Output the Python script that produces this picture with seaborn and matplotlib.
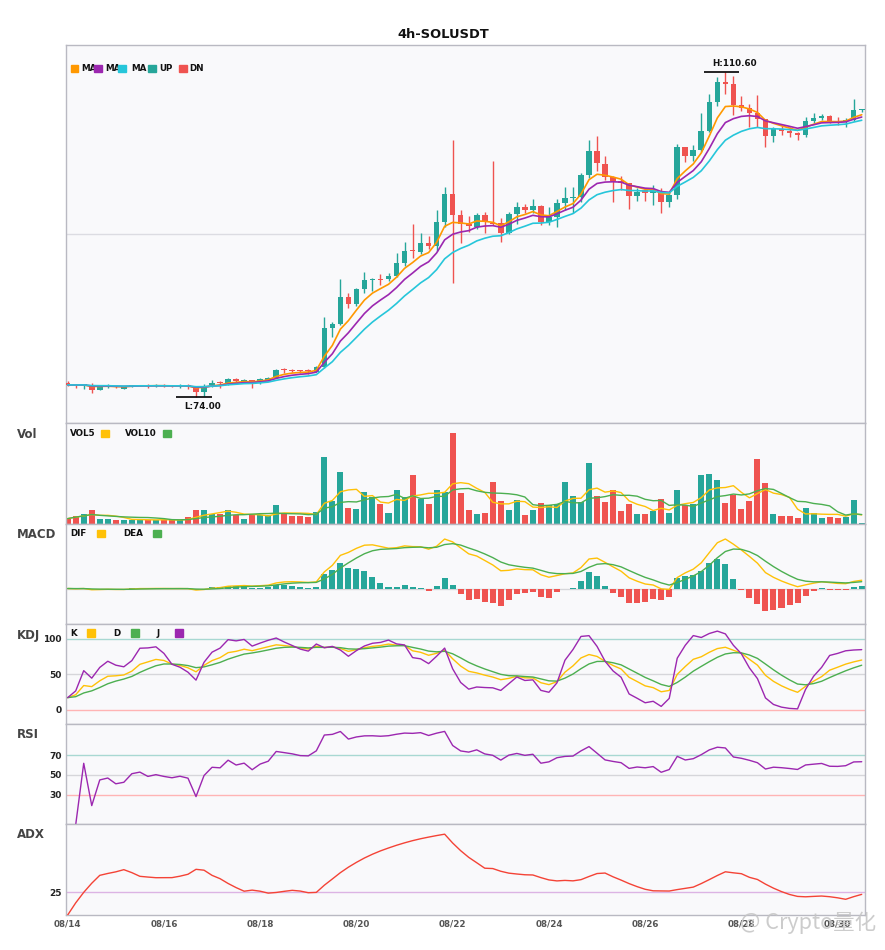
import numpy as np
import pandas as pd
import matplotlib
matplotlib.use('Agg')
import matplotlib.pyplot as plt
from matplotlib.patches import Rectangle
import seaborn as sns

# ---- data (4h candles) ----
open_ = [75.62, 75.36, 75.33, 75.41, 74.88, 75.22, 75.25, 74.99, 75.22, 75.30,
         75.35, 75.31, 75.35, 75.31, 75.27, 75.31, 75.03, 74.66, 75.40, 75.65,
         75.63, 76.04, 75.78, 75.93, 75.78, 76.00, 76.23, 77.12, 77.06, 77.00,
         76.98, 76.90, 77.47, 81.85, 82.26, 85.30, 84.55, 86.20, 87.22, 87.30,
         87.36, 87.70, 89.16, 90.55, 90.40, 91.37, 91.07, 93.74, 96.88, 94.52,
         93.50, 93.17, 94.52, 93.66, 93.66, 92.53, 94.63, 95.46, 95.09, 95.57,
         93.77, 94.26, 95.87, 96.45, 96.58, 99.02, 101.72, 100.26, 98.76, 98.38,
         98.08, 96.65, 97.30, 96.95, 96.96, 95.98, 96.77, 102.13, 101.19, 101.83,
         104.00, 107.23, 109.48, 109.29, 106.89, 106.51, 105.95, 105.28, 103.40, 104.15,
         104.00, 103.78, 103.52, 105.10, 105.39, 105.65, 105.10, 105.00, 105.20, 106.33]
high = [75.85, 75.56, 75.50, 75.60, 75.41, 75.56, 75.30, 75.22, 75.40, 75.45,
        75.56, 75.50, 75.50, 75.45, 75.56, 75.56, 75.10, 75.48, 75.97, 75.89,
        76.16, 76.16, 76.05, 76.00, 76.23, 76.35, 77.20, 77.35, 77.15, 77.10,
        77.20, 77.50, 83.01, 82.53, 87.32, 85.71, 86.30, 88.07, 87.40, 87.85,
        88.04, 90.25, 91.45, 93.51, 92.50, 92.16, 95.09, 97.71, 102.95, 95.09,
        94.41, 94.78, 94.90, 100.59, 94.15, 94.82, 95.95, 95.76, 96.32, 95.60,
        95.46, 96.32, 97.67, 97.67, 99.30, 102.95, 103.40, 101.16, 98.90, 98.90,
        98.10, 97.52, 97.52, 97.86, 97.52, 97.07, 102.50, 102.20, 102.39, 106.03,
        108.09, 110.00, 110.60, 110.15, 107.90, 107.00, 108.00, 105.30, 104.37, 104.52,
        104.37, 103.80, 105.50, 106.03, 105.87, 105.76, 105.50, 105.39, 107.53, 106.42]
low = [75.33, 75.07, 74.92, 74.47, 74.81, 75.03, 75.05, 74.95, 75.18, 75.26,
       75.07, 75.20, 75.15, 75.15, 75.03, 74.96, 74.00, 74.21, 75.22, 75.03,
       75.41, 75.60, 75.70, 75.03, 75.48, 75.90, 76.16, 76.72, 76.90, 76.72,
       76.60, 76.85, 77.28, 80.84, 82.15, 84.03, 84.29, 85.79, 86.01, 86.65,
       87.14, 87.60, 88.79, 89.69, 90.14, 90.74, 90.47, 93.21, 86.91, 91.33,
       92.65, 92.98, 92.46, 93.35, 91.52, 92.34, 93.50, 94.78, 94.78, 93.40,
       93.40, 93.21, 95.09, 94.70, 96.00, 98.64, 99.47, 98.50, 96.02, 97.33,
       95.16, 96.10, 96.10, 95.60, 94.78, 95.46, 96.28, 100.52, 100.63, 101.60,
       103.90, 106.78, 108.13, 105.77, 106.25, 104.45, 104.37, 102.20, 102.77, 103.50,
       103.25, 102.95, 103.33, 104.82, 105.20, 104.82, 104.63, 104.45, 105.10, 106.15]
close = [75.42, 75.30, 75.48, 74.88, 75.26, 75.30, 75.15, 75.18, 75.37, 75.41,
         75.31, 75.35, 75.31, 75.28, 75.31, 75.27, 74.66, 75.26, 75.63, 75.61,
         76.04, 75.86, 75.97, 75.71, 76.04, 76.23, 77.13, 77.08, 77.03, 76.96,
         76.95, 77.43, 81.81, 82.30, 85.34, 84.55, 86.20, 87.21, 87.30, 87.25,
         87.70, 89.12, 90.51, 90.48, 91.37, 91.07, 93.74, 96.88, 94.56, 93.51,
         93.28, 94.52, 93.74, 93.47, 92.53, 94.63, 95.46, 95.09, 95.57, 93.77,
         94.26, 95.87, 96.43, 96.58, 99.02, 101.72, 100.33, 98.76, 98.38, 98.08,
         96.65, 97.14, 96.95, 97.33, 95.98, 96.77, 102.13, 101.19, 101.83, 104.00,
         107.23, 109.48, 109.29, 106.89, 106.51, 105.95, 105.28, 103.40, 104.15, 104.00,
         103.78, 103.52, 105.10, 105.39, 105.65, 105.03, 105.00, 105.20, 106.33, 106.40]
volume_k = [16, 25, 31, 41, 16, 16, 13, 11, 13, 13,
            13, 11, 13, 11, 11, 22, 43, 43, 31, 31,
            43, 26, 16, 26, 26, 26, 55, 31, 25, 25,
            22, 37, 199, 67, 154, 49, 46, 94, 79, 58,
            34, 100, 79, 145, 74, 58, 100, 94, 271, 91,
            43, 31, 34, 124, 67, 43, 70, 28, 43, 61,
            55, 58, 124, 82, 64, 181, 82, 64, 100, 40,
            58, 31, 31, 40, 73, 34, 100, 55, 58, 145,
            148, 130, 61, 85, 46, 67, 193, 121, 31, 25,
            25, 19, 49, 34, 19, 22, 19, 22, 70, 2]
tick_pos = [0, 12, 24, 36, 48, 60, 72, 84, 96]
tick_labels = ['08/14', '08/16', '08/18', '08/20', '08/22', '08/24', '08/26', '08/28', '08/30']

UP, DN = '#26a69a', '#ef5350'
C_MA1, C_MA2, C_MA3 = '#ff9800', '#9c27b0', '#26c6da'
GOLD, GREEN, PURPLE = '#ffc107', '#4caf50', '#9c27b0'
BG, SPINE = '#f9f9fb', '#b9b9c2'

df = pd.DataFrame({'open': open_, 'high': high, 'low': low, 'close': close, 'vol': volume_k})
n = len(df)
idx = np.arange(n)
is_up = (df['close'] >= df['open']).values
cols = np.where(is_up, UP, DN)


def ema(s, span):
    return s.ewm(span=span, adjust=False).mean()


# ---- indicators ----
ma1 = ema(df['close'], 5)
ma2 = ema(df['close'], 8)
ma3 = ema(df['close'], 13)
vol5 = df['vol'].rolling(5, min_periods=1).mean()
vol10 = df['vol'].rolling(10, min_periods=1).mean()

dif = ema(df['close'], 6) - ema(df['close'], 13)
dea = ema(dif, 5)
hist = 2 * (dif - dea)

llv = df['low'].rolling(9, min_periods=1).min()
hhv = df['high'].rolling(9, min_periods=1).max()
rsv = (df['close'] - llv) / (hhv - llv) * 100
k_line = rsv.ewm(com=2, adjust=False).mean()
d_line = k_line.ewm(com=2, adjust=False).mean()
j_line = 3 * k_line - 2 * d_line

delta = df['close'].diff()
gain = delta.clip(lower=0).ewm(alpha=1 / 14).mean()
loss = (-delta.clip(upper=0)).ewm(alpha=1 / 14).mean()
rsi = 100 * gain / (gain + loss)

prev_c = df['close'].shift()
tr = pd.concat([df['high'] - df['low'], (df['high'] - prev_c).abs(),
                (df['low'] - prev_c).abs()], axis=1).max(axis=1)
up_move = df['high'].diff()
dn_move = -df['low'].diff()
pdm = pd.Series(np.where((up_move > dn_move) & (up_move > 0), up_move, 0.0))
mdm = pd.Series(np.where((dn_move > up_move) & (dn_move > 0), dn_move, 0.0))
atr = ema(tr, 14)
pdi = 100 * ema(pdm, 14) / atr
mdi = 100 * ema(mdm, 14) / atr
dx = (100 * (pdi - mdi).abs() / (pdi + mdi)).fillna(0)
adx = ema(dx, 14)

# ---- figure ----
sns.set_style('white')
plt.rcParams['font.family'] = ['DejaVu Sans']
fig = plt.figure(figsize=(8.85, 9.5), dpi=100)
W, H = 885, 950


def panel(top, bottom):
    ax = fig.add_axes([66 / W, 1 - bottom / H, 799 / W, (bottom - top) / H])
    ax.set_facecolor(BG)
    for s in ax.spines.values():
        s.set_color(SPINE)
        s.set_linewidth(1)
    ax.set_xticks([])
    ax.set_yticks([])
    return ax


def line(ax, y, color, lw=1.0, z=4):
    sns.lineplot(x=idx, y=np.asarray(y), ax=ax, color=color, linewidth=lw, zorder=z, legend=False)
    ax.set_xlabel('')
    ax.set_ylabel('')


def legend(items, ycen):
    for kind, x, val in items:
        if kind == 't':
            fig.text(x / W, 1 - ycen / H, val, fontsize=6.3, fontweight='bold',
                     color='#111111', va='center', ha='left', zorder=3)
        else:
            fig.add_artist(Rectangle((x / W, 1 - (ycen + 3.7) / H), 7.5 / W, 7.5 / H,
                                     transform=fig.transFigure, color=val, zorder=5))


def ylabels(ax, ticks):
    ax.set_yticks(ticks)
    ax.set_yticklabels([str(t) for t in ticks], fontsize=6.5, fontweight='bold', color='#222222')
    ax.tick_params(axis='y', length=0, pad=3)


ax_p = panel(45, 423)
ax_v = panel(423, 524)
ax_m = panel(524, 624)
ax_k = panel(624, 724)
ax_r = panel(724, 824)
ax_a = panel(824, 915)

# price
ax_p.set_ylim(71.13, 113.64)
ax_p.axhline(sum(ax_p.get_ylim()) / 2, color='#dcdce2', lw=1, zorder=1)
ax_p.vlines(idx, df['low'], df['high'], colors=cols, lw=1, zorder=2)
body_bot = np.minimum(df['open'], df['close'])
body_h = np.maximum((df['close'] - df['open']).abs(), 0.1)
ax_p.bar(idx, body_h, bottom=body_bot, width=0.7, color=cols, linewidth=0, zorder=3)
line(ax_p, ma1, C_MA1, 1.2)
line(ax_p, ma2, C_MA2, 1.2)
line(ax_p, ma3, C_MA3, 1.2)
ih = int(df['high'].idxmax())
il = int(df['low'].idxmin())
ax_p.hlines(df['high'][ih], ih - 2.65, ih + 1.75, color='black', lw=1.2, zorder=5)
ax_p.text(ih - 1.65, df['high'][ih] + 0.42, f"H:{df['high'][ih]:.2f}", fontsize=6.3,
          fontweight='bold', color='#111111', va='bottom', ha='left')
ax_p.hlines(df['low'][il], il - 2.55, il + 1.95, color='black', lw=1.2, zorder=5)
ax_p.text(il - 1.5, df['low'][il] - 0.5, f"L:{df['low'][il]:.2f}", fontsize=6.3,
          fontweight='bold', color='#111111', va='top', ha='left')
legend([('s', 70.7, C_MA1), ('t', 81.3, 'MA'), ('s', 94, C_MA2), ('t', 105.3, 'MA'),
        ('s', 118, C_MA3), ('t', 131.3, 'MA'), ('s', 148.3, UP), ('t', 159.3, 'UP'),
        ('s', 179, DN), ('t', 189.3, 'DN')], 68.7)

# volume
ax_v.bar(idx, df['vol'], width=0.75, color=cols, linewidth=0, zorder=2)
line(ax_v, vol5, GOLD, 1.0)
line(ax_v, vol10, GREEN, 1.0)
ax_v.set_ylim(0, df['vol'].max() * 1.107)
legend([('t', 70, 'VOL5'), ('s', 101, GOLD), ('t', 125.3, 'VOL10'), ('s', 163, GREEN)], 433.7)

# macd
hi = dif.max() * 64.5 / 49.5
ax_m.set_ylim(-hi * 35.5 / 64.5, hi)
ax_m.axhline(0, color='#d6d6da', lw=1, zorder=1)
ax_m.bar(idx, hist, width=0.75, color=np.where(hist >= 0, UP, DN), linewidth=0, zorder=2)
line(ax_m, dif, GOLD, 1.0)
line(ax_m, dea, GREEN, 1.0)
legend([('t', 70, 'DIF'), ('s', 97.3, GOLD), ('t', 123.3, 'DEA'), ('s', 153, GREEN)], 533.7)

# kdj
ax_k.set_ylim(-19.7, 120.7)
for lv, c in [(100, '#a8d8d2'), (50, '#d6d6da'), (0, '#ffb4b4')]:
    ax_k.axhline(lv, color=c, lw=1, zorder=1)
line(ax_k, k_line, GOLD, 1.0)
line(ax_k, d_line, GREEN, 1.0)
line(ax_k, j_line, PURPLE, 1.0)
ylabels(ax_k, [0, 50, 100])
legend([('t', 70, 'K'), ('s', 87.3, GOLD), ('t', 113.3, 'D'), ('s', 131, GREEN),
        ('t', 156.7, 'J'), ('s', 175, PURPLE)], 633)

# rsi
ax_r.set_ylim(0.7, 101.3)
for lv, c in [(70, '#a8d8d2'), (50, '#d6d6da'), (30, '#ffb4b4')]:
    ax_r.axhline(lv, color=c, lw=1, zorder=1)
line(ax_r, rsi, PURPLE, 1.0)
ylabels(ax_r, [30, 50, 70])

# adx
ax_a.set_ylim(0, 100)
ax_a.axhline(25, color='#dcb4e4', lw=1, zorder=1)
line(ax_a, adx, '#f44336', 1.0)
ylabels(ax_a, [25])
ax_a.set_xticks(tick_pos)
ax_a.set_xticklabels(tick_labels, fontsize=6.3, fontweight='bold', color='#555555')
ax_a.tick_params(axis='x', length=0, pad=3)

for ax in (ax_p, ax_v, ax_m, ax_k, ax_r, ax_a):
    ax.set_xlim(-0.21, 99.41)

for name, yc in [('Vol', 435), ('MACD', 535), ('KDJ', 635), ('RSI', 735), ('ADX', 835)]:
    fig.text(17 / W, 1 - yc / H, name, fontsize=8.5, fontweight='bold', color='#444444',
             va='center', ha='left')

fig.text(0.501, 1 - 34 / H, '4h-SOLUSDT', fontsize=9.4, fontweight='bold', ha='center',
         va='center', color='#111111')
fig.text(740 / W, 1 - 923 / H, '@ Crypto量化', fontsize=15.5, color='#c4c4c4', alpha=0.85,
         ha='left', va='center', family=['Noto Sans CJK SC', 'DejaVu Sans'], zorder=10)

fig.savefig('out.png', dpi=100, facecolor='white')
